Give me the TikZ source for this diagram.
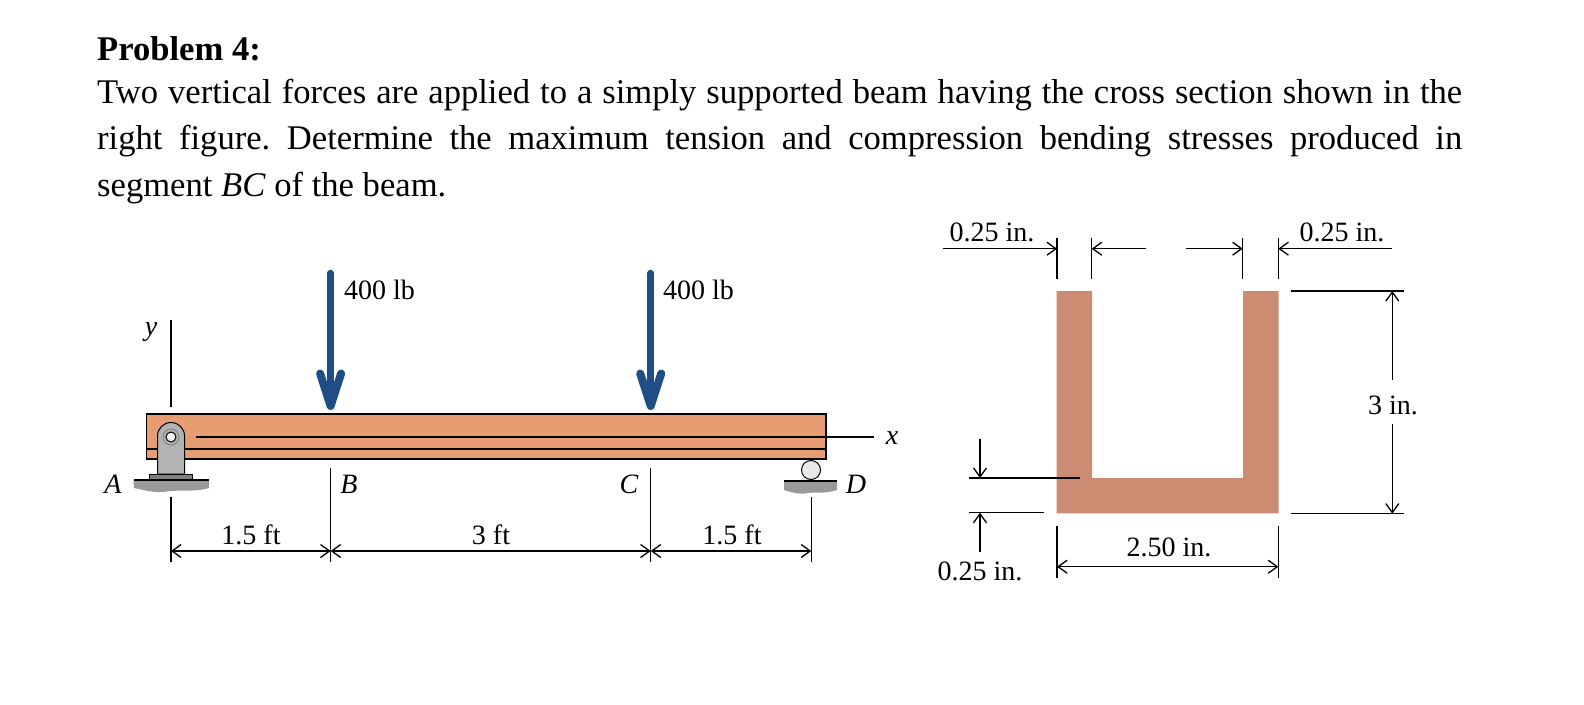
\documentclass[tikz,border=0pt]{standalone}
\usepackage{fontspec}
\setmainfont{Liberation Serif}
\usetikzlibrary{arrows.meta}
\definecolor{beamc}{HTML}{E69D72}
\definecolor{secc}{HTML}{CC8C72}
\definecolor{blu}{HTML}{1F4E85}
\definecolor{gnd}{HTML}{999999}
\definecolor{pinc}{HTML}{B3B3B3}
\tikzset{
 lbl/.style={font=\fontsize{28}{30}\selectfont,inner sep=0pt},
 ital/.style={font=\fontsize{28}{30}\selectfont\itshape,inner sep=0pt},
 dim/.style={line width=1.5pt,black},
 dimarr/.style={dim,{Straight Barb[length=9pt,width=13pt,line width=1.3pt]}-{Straight Barb[length=9pt,width=13pt,line width=1.3pt]}},
 dimend/.style={dim,-{Straight Barb[length=9pt,width=13pt,line width=1.3pt]}},
 axis/.style={line width=1.5pt,black},
 force/.style={line width=6.5pt,blu,line cap=round,line join=round},
 forcehead/.style={line width=8pt,blu,line cap=round,line join=round},
}
\begin{document}
\begin{tikzpicture}[x=1pt,y=-1pt]
\useasboundingbox (0,0) rectangle (1584,704);
\fill[white] (0,0) rectangle (1584,704);
% text
\node[anchor=north west,inner sep=0pt,text width=1365pt,align=justify,font=\fontsize{34.6}{46.5}\selectfont] (txt) at (97,36)
{\frenchspacing\textbf{Problem 4:}\\[-3.5pt]
Two vertical forces are applied to a simply supported beam having the cross section shown in the\linebreak
right figure. Determine the maximum tension and compression bending stresses produced in\linebreak
segment \textit{BC} of the beam.};
% beam
\fill[beamc] (146.3,413.7) rectangle (826,459);
\draw[line width=1.6pt] (146.3,413.7) rectangle (826,459);
\draw[line width=1.6pt] (146.3,449) -- (826,449);
\coordinate (xs) at (195.7,437); \coordinate (xe) at (874,437);
\draw[axis] (xs) -- (xe);
\node[ital] (xl) at (892,438) {x};
\coordinate (ys) at (171,319.5); \coordinate (ye) at (171,407);
\draw[axis] (ys) -- (ye);
\node[ital] (yl) at (151,332) {y};
% support A
\fill[gnd] (133.5,480) -- (209,480) -- (209,488) .. controls (195,492) and (185,490) .. (170,491) .. controls (155,494) and (145,490) .. (134,488) -- cycle;
\draw[fill=pinc,line width=1pt] (157.5,474) -- (157.5,436) arc[start angle=180,end angle=360,radius=13.5] -- (184.5,474) -- cycle;
\draw[fill=gray,line width=1pt] (149.5,474) rectangle (192,480);
\draw[line width=1.6pt] (133.5,480) -- (209,480);
\draw[gray,line width=.8pt] (171,437) circle (8);
\draw[fill=white!90!gray,line width=1pt] (171,437) circle (5);
% support D
\fill[gnd] (784,481) -- (837,481) -- (837,490) .. controls (825,494) and (818,492) .. (808,493) .. controls (800,495) and (790,492) .. (784,490) -- cycle;
\draw[fill=white!83!gray,line width=1pt] (811,470) circle (9.5);
\draw[line width=1.8pt] (784,481) -- (837,481);
% forces
\foreach \n/\x in {b/330.6,c/650.7}{
 \coordinate (f\n s) at (\x,273);
 \coordinate (f\n e) at (\x,400);
 \draw[force] (f\n s) -- (f\n e);
 \draw[forcehead] (\x-10.5,373.5) -- (\x,406) -- (\x+10.5,373.5);
 \fill[blu] (\x-7,386) -- (\x,406) -- (\x+7,386) -- cycle;
}
\node[lbl,anchor=west] (p1) at (344,290) {400 lb};
\node[lbl,anchor=west] (p2) at (663,290) {400 lb};
% dims beam
\coordinate (a1) at (171,497); \coordinate (a2) at (171,562);
\coordinate (b1) at (330.6,468); \coordinate (b2) at (330.6,562);
\coordinate (c1) at (650.7,468); \coordinate (c2) at (650.7,562);
\coordinate (d1) at (811.3,497); \coordinate (d2) at (811.3,562);
\draw[dim] (a1)--(a2) (b1)--(b2) (c1)--(c2) (d1)--(d2);
\coordinate (da) at (171,551); \coordinate (db) at (330.6,551); \coordinate (dc) at (650.7,551); \coordinate (dd) at (811.3,551);
\draw[dimarr] (da) -- (db);
\draw[dimarr] (db) -- (dc);
\draw[dimarr] (dc) -- (dd);
\node[lbl] (l1) at (251,535) {1.5 ft};
\node[lbl] (l2) at (491,535) {3 ft};
\node[lbl] (l3) at (732,535) {1.5 ft};
\node[ital] (la) at (113,484) {A};
\node[ital] (lb) at (349,484) {B};
\node[ital] (lc) at (629,484) {C};
\node[ital] (ld) at (856,484) {D};
% section
\fill[secc] (1056.5,291) -- (1092,291) -- (1092,478) -- (1243,478) -- (1243,291) -- (1278.5,291) -- (1278.5,513.3) -- (1056.5,513.3) -- cycle;
\coordinate (t1) at (1057,237.7); \coordinate (t1b) at (1057,279);
\coordinate (t2) at (1091.7,237.7); \coordinate (t2b) at (1091.7,279);
\coordinate (t3) at (1242.7,237.7); \coordinate (t3b) at (1242.7,279);
\coordinate (t4) at (1278.3,237.7); \coordinate (t4b) at (1278.3,279);
\draw[dim] (t1)--(t1b) (t2)--(t2b) (t3)--(t3b) (t4)--(t4b);
\coordinate (ll) at (943,248.7); \coordinate (lm1) at (1057,248.7);
\coordinate (lr) at (1146,248.7); \coordinate (lm2) at (1091.7,248.7);
\coordinate (rl) at (1186,248.7); \coordinate (rm1) at (1242.7,248.7);
\coordinate (rr) at (1392,248.7); \coordinate (rm2) at (1278.3,248.7);
\draw[dimend] (ll)--(lm1);
\draw[dimend] (lr)--(lm2);
\draw[dimend] (rl)--(rm1);
\draw[dimend] (rr)--(rm2);
\node[lbl] (w1) at (992,232) {0.25 in.};
\node[lbl] (w2) at (1342,232) {0.25 in.};
% 0.25 bottom
\coordinate (h1) at (969,478); \coordinate (h1e) at (1080,478);
\coordinate (h2) at (969,512.7); \coordinate (h2e) at (1044,512.7);
\draw[dim] (h1)--(h1e); \draw[dim] (h2)--(h2e);
\coordinate (v1) at (980,439); \coordinate (v1e) at (980,478);
\coordinate (v2) at (980,551.7); \coordinate (v2e) at (980,512.7);
\draw[dimend] (v1)--(v1e);
\draw[dimend] (v2)--(v2e);
\node[lbl] (w3) at (980,571) {0.25 in.};
% 2.50
\coordinate (g1) at (1057,526); \coordinate (g1e) at (1057,578);
\coordinate (g2) at (1278.3,526); \coordinate (g2e) at (1278.3,578);
\draw[dim] (g1)--(g1e) (g2)--(g2e);
\coordinate (gl) at (1057,566.7); \coordinate (gr) at (1278.3,566.7);
\draw[dimarr] (gl)--(gr);
\node[lbl] (w4) at (1169,547) {2.50 in.};
% 3 in
\coordinate (k1) at (1291,291); \coordinate (k1e) at (1404,291);
\coordinate (k2) at (1291,513.7); \coordinate (k2e) at (1404,513.7);
\draw[dim] (k1)--(k1e) (k2)--(k2e);
\coordinate (m1) at (1392.3,291); \coordinate (m2) at (1392.3,513.7);
\coordinate (m1e) at (1392.3,380); \coordinate (m2e) at (1392.3,424);
\draw[dimend] (m1e)--(m1);
\draw[dimend] (m2e)--(m2);
\node[lbl] (w5) at (1393,405) {3 in.};
\end{tikzpicture}
\end{document}
